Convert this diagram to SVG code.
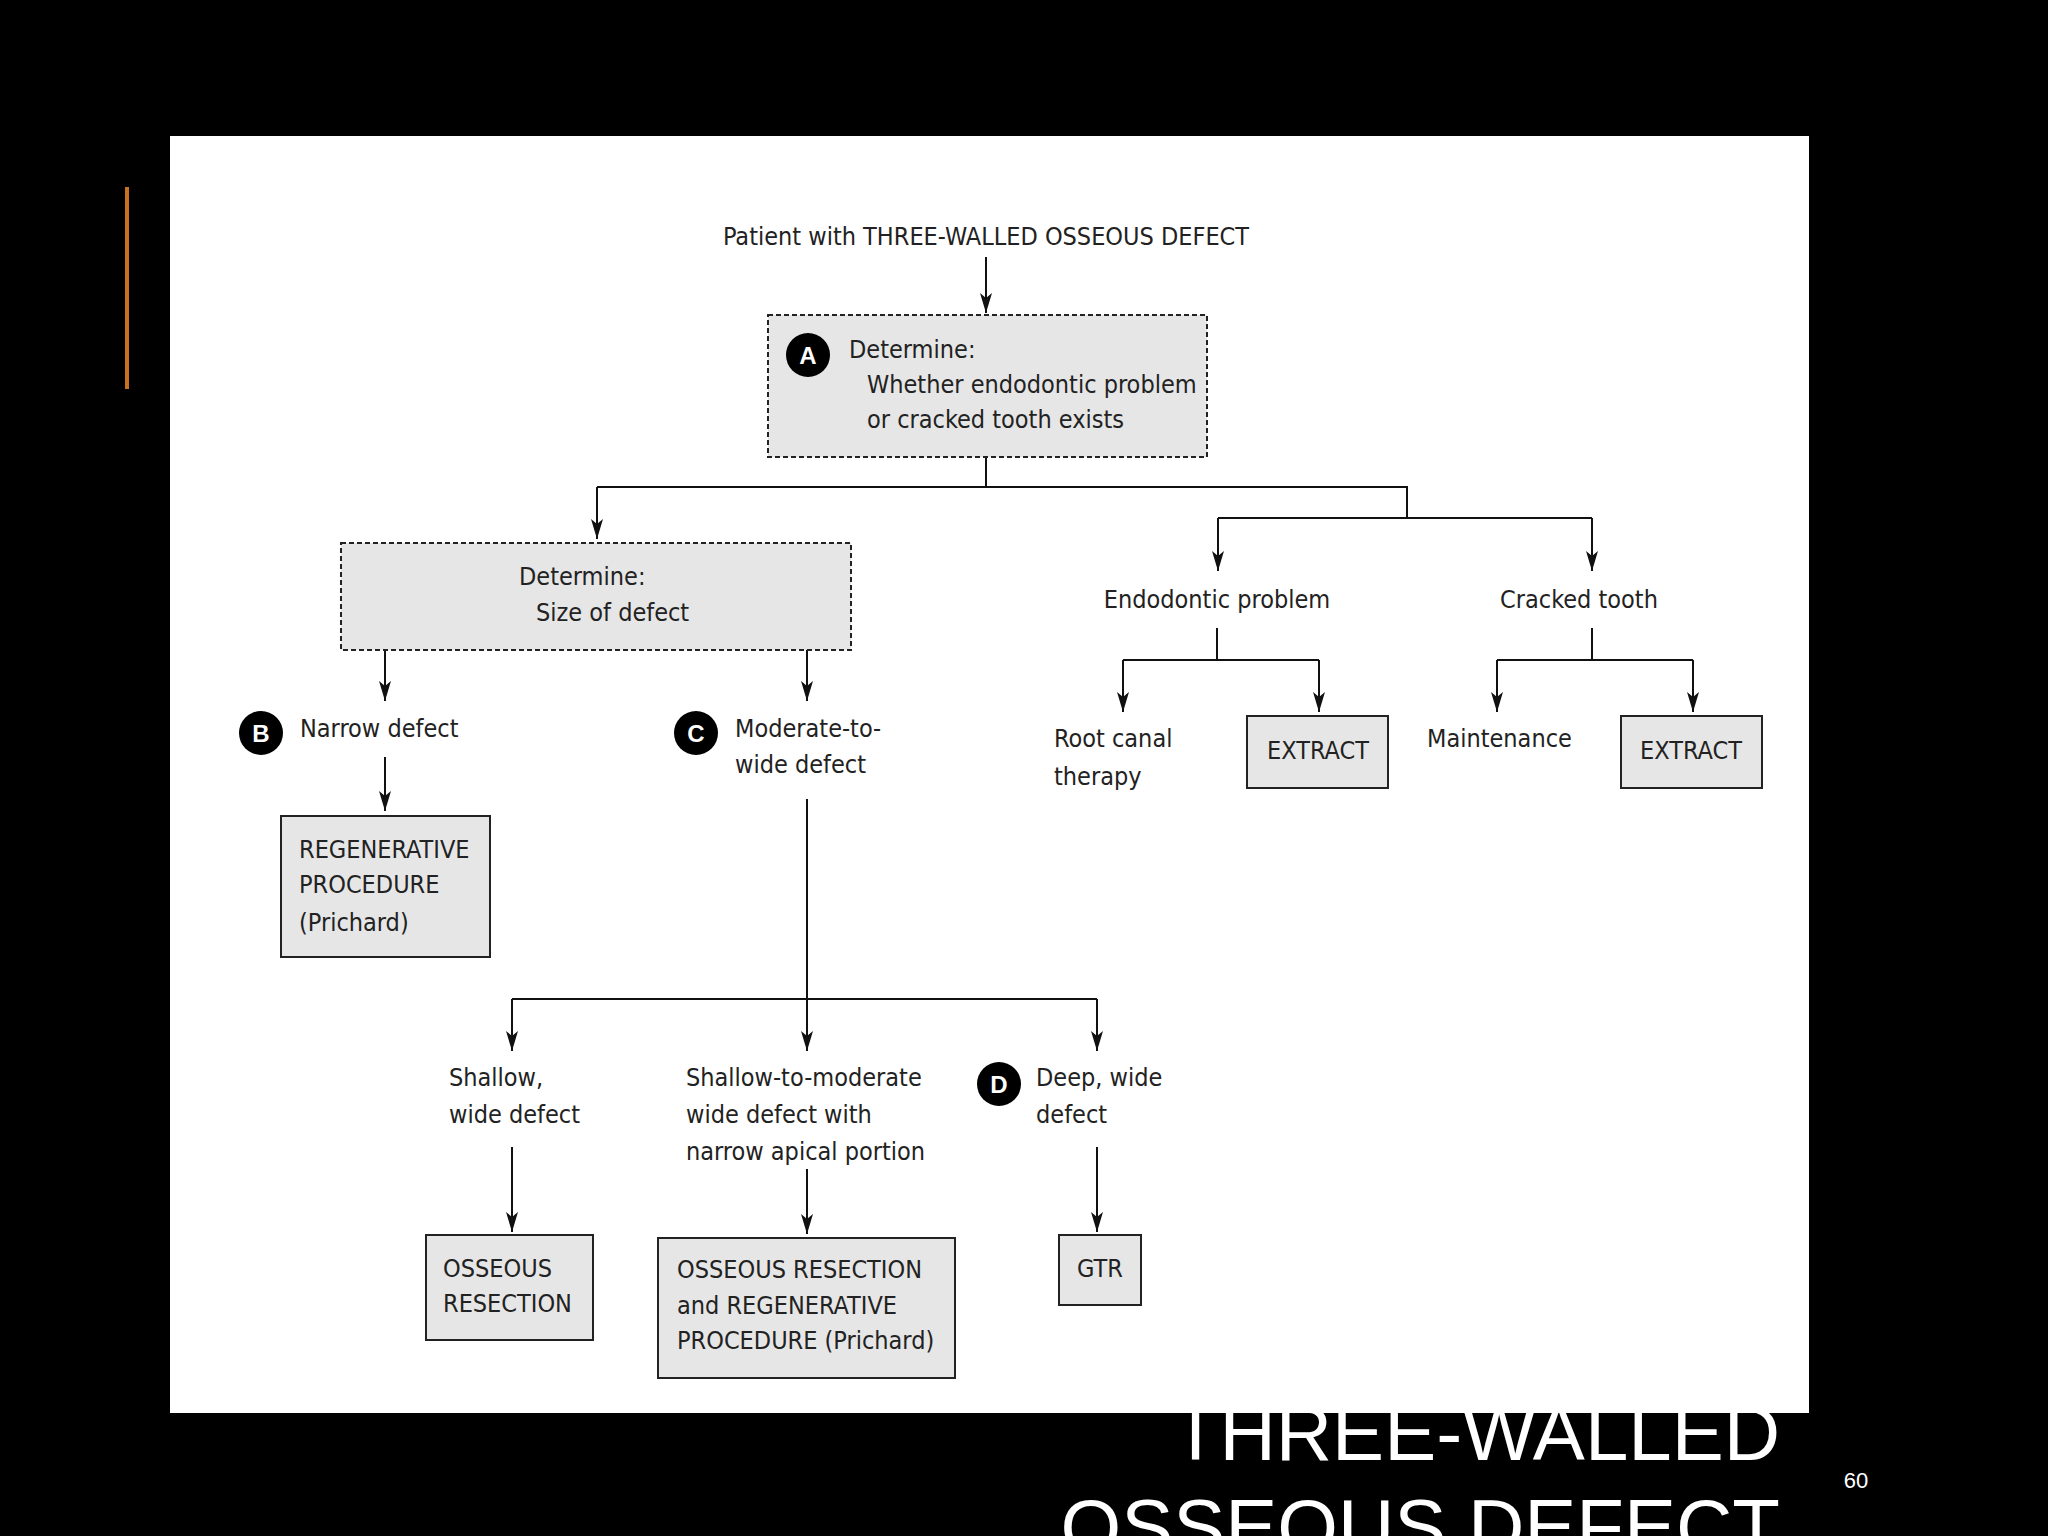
<svg xmlns="http://www.w3.org/2000/svg" width="2048" height="1536" viewBox="0 0 2048 1536">
<defs>
<style>
.t{font-family:"DejaVu Sans Condensed","Liberation Sans",sans-serif;font-size:25px;fill:#222}
.c{text-anchor:middle}
.box{fill:#e6e6e6;stroke:#222;stroke-width:2}
.dash{fill:#e6e6e6;stroke:#222;stroke-width:2;stroke-dasharray:5 3}
.ln{stroke:#111;stroke-width:2;fill:none}
.ar{stroke:#111;stroke-width:2;fill:none;marker-end:url(#ah)}
.circ{fill:#000}
.cl{font-family:"Liberation Sans",sans-serif;font-weight:bold;font-size:24px;fill:#fff;text-anchor:middle}
</style>
<marker id="ah" markerWidth="20" markerHeight="12" refX="20" refY="6" orient="auto" markerUnits="userSpaceOnUse" viewBox="0 0 20 12">
<path d="M0,0 L20,6 L0,12 L5,6 Z" fill="#111"/>
</marker>
</defs>
<rect width="2048" height="1536" fill="#000"/>
<line x1="127" y1="187" x2="127" y2="389" stroke="#c8711e" stroke-width="4"/>
<text x="1780" y="1460" font-family="Liberation Sans,sans-serif" font-size="78" fill="#fff" text-anchor="end">THREE-WALLED</text>
<text x="1780" y="1554" font-family="Liberation Sans,sans-serif" font-size="78" fill="#fff" text-anchor="end">OSSEOUS DEFECT</text>
<text x="1856" y="1488" font-family="Liberation Sans,sans-serif" font-size="22" fill="#fff" text-anchor="middle">60</text>
<rect x="170" y="136" width="1639" height="1277" fill="#fff"/>

<g id="connectors">
<line class="ar" x1="986" y1="257" x2="986" y2="313"/>
<polyline class="ln" points="986,457 986,487"/>
<polyline class="ln" points="597,487 1407,487 1407,518"/>
<line class="ar" x1="597" y1="487" x2="597" y2="539"/>
<line class="ln" x1="1218" y1="518" x2="1592" y2="518"/>
<line class="ar" x1="1218" y1="518" x2="1218" y2="571"/>
<line class="ar" x1="1592" y1="518" x2="1592" y2="571"/>
<line class="ar" x1="385" y1="650" x2="385" y2="701"/>
<line class="ar" x1="807" y1="650" x2="807" y2="701"/>
<line class="ar" x1="385" y1="757" x2="385" y2="811"/>
<line class="ln" x1="807" y1="799" x2="807" y2="999"/>
<line class="ln" x1="512" y1="999" x2="1097" y2="999"/>
<line class="ar" x1="512" y1="999" x2="512" y2="1051"/>
<line class="ar" x1="807" y1="999" x2="807" y2="1051"/>
<line class="ar" x1="1097" y1="999" x2="1097" y2="1051"/>
<line class="ar" x1="512" y1="1147" x2="512" y2="1232"/>
<line class="ar" x1="807" y1="1169" x2="807" y2="1234"/>
<line class="ar" x1="1097" y1="1147" x2="1097" y2="1232"/>
<line class="ln" x1="1217" y1="628" x2="1217" y2="660"/>
<line class="ln" x1="1123" y1="660" x2="1319" y2="660"/>
<line class="ar" x1="1123" y1="660" x2="1123" y2="712"/>
<line class="ar" x1="1319" y1="660" x2="1319" y2="712"/>
<line class="ln" x1="1592" y1="628" x2="1592" y2="660"/>
<line class="ln" x1="1497" y1="660" x2="1693" y2="660"/>
<line class="ar" x1="1497" y1="660" x2="1497" y2="712"/>
<line class="ar" x1="1693" y1="660" x2="1693" y2="712"/>
</g>

<g id="start"><text class="t c" x="986" y="245">Patient with THREE-WALLED OSSEOUS DEFECT</text></g>
<g id="nodeA">
<rect class="dash" x="768" y="315" width="439" height="142"/>
<circle class="circ" cx="808" cy="355" r="22"/><text class="cl" x="808" y="364">A</text>
<text class="t" x="849" y="358">Determine:</text>
<text class="t" x="867" y="393">Whether endodontic problem</text>
<text class="t" x="867" y="428">or cracked tooth exists</text>
</g>
<g id="size">
<rect class="dash" x="341" y="543" width="510" height="107"/>
<text class="t" x="519" y="585">Determine:</text>
<text class="t" x="536" y="621">Size of defect</text>
</g>
<g id="nodeB">
<circle class="circ" cx="261" cy="733" r="22"/><text class="cl" x="261" y="742">B</text>
<text class="t" x="300" y="737">Narrow defect</text>
</g>
<g id="regen">
<rect class="box" x="281" y="816" width="209" height="141"/>
<text class="t" x="299" y="858">REGENERATIVE</text>
<text class="t" x="299" y="893">PROCEDURE</text>
<text class="t" x="299" y="931">(Prichard)</text>
</g>
<g id="nodeC">
<circle class="circ" cx="696" cy="733" r="22"/><text class="cl" x="696" y="742">C</text>
<text class="t" x="735" y="737">Moderate-to-</text>
<text class="t" x="735" y="773">wide defect</text>
</g>
<g id="shallow">
<text class="t" x="449" y="1086">Shallow,</text>
<text class="t" x="449" y="1123">wide defect</text>
</g>
<g id="s2m">
<text class="t" x="686" y="1086">Shallow-to-moderate</text>
<text class="t" x="686" y="1123">wide defect with</text>
<text class="t" x="686" y="1160">narrow apical portion</text>
</g>
<g id="nodeD">
<circle class="circ" cx="999" cy="1084" r="22"/><text class="cl" x="999" y="1093">D</text>
<text class="t" x="1036" y="1086">Deep, wide</text>
<text class="t" x="1036" y="1123">defect</text>
</g>
<g id="osres">
<rect class="box" x="426" y="1235" width="167" height="105"/>
<text class="t" x="443" y="1277">OSSEOUS</text>
<text class="t" x="443" y="1312">RESECTION</text>
</g>
<g id="osreg">
<rect class="box" x="658" y="1238" width="297" height="140"/>
<text class="t" x="677" y="1278">OSSEOUS RESECTION</text>
<text class="t" x="677" y="1314">and REGENERATIVE</text>
<text class="t" x="677" y="1349">PROCEDURE (Prichard)</text>
</g>
<g id="gtr">
<rect class="box" x="1059" y="1235" width="82" height="70"/>
<text class="t" x="1077" y="1277">GTR</text>
</g>
<g id="endo"><text class="t c" x="1217" y="608">Endodontic problem</text></g>
<g id="cracked"><text class="t c" x="1579" y="608">Cracked tooth</text></g>
<g id="rct">
<text class="t" x="1054" y="747">Root canal</text>
<text class="t" x="1054" y="785">therapy</text>
</g>
<g id="ext1">
<rect class="box" x="1247" y="716" width="141" height="72"/>
<text class="t c" x="1318" y="759">EXTRACT</text>
</g>
<g id="maint"><text class="t" x="1427" y="747">Maintenance</text></g>
<g id="ext2">
<rect class="box" x="1621" y="716" width="141" height="72"/>
<text class="t c" x="1691" y="759">EXTRACT</text>
</g>
</svg>
